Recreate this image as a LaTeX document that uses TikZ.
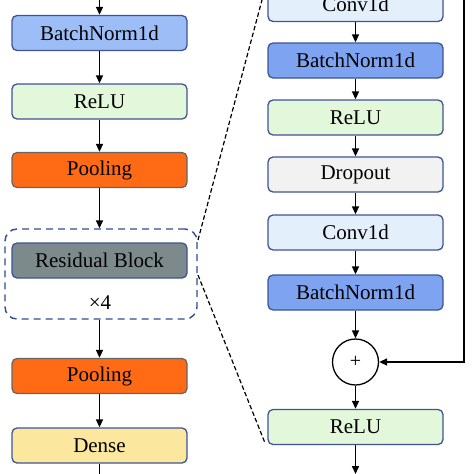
\documentclass[tikz,border=0pt]{standalone}
\usepackage{fontspec}
\setmainfont{Liberation Serif}
\usetikzlibrary{arrows.meta}
\definecolor{bnL}{HTML}{9DBDF7}
\definecolor{bnR}{HTML}{7EA4F1}
\definecolor{reluC}{HTML}{E3F7DA}
\definecolor{poolC}{HTML}{FF6A14}
\definecolor{resC}{HTML}{7D8A8C}
\definecolor{denseC}{HTML}{FCE79E}
\definecolor{convC}{HTML}{E4EFFC}
\definecolor{dropC}{HTML}{F2F2F2}
\definecolor{edgeC}{HTML}{3E5494}
\definecolor{grpC}{HTML}{2F4C90}
\tikzset{
  layer/.style={draw=edgeC, line width=1.3pt, rounded corners=5pt, minimum width=175pt, minimum height=35pt, inner sep=0pt, font=\fontsize{21}{23}\selectfont, text=black},
  arr/.style={line width=1.5pt, -{Triangle[length=8pt,width=7pt]}},
  link/.style={line width=1.2pt, dash pattern=on 4.5pt off 2.5pt},
}
\begin{document}
\begin{tikzpicture}[x=1pt,y=-1pt]
\useasboundingbox (0,0) rectangle (474,474);
% left column
\coordinate (inL) at (99.5,0);
\node[layer, fill=bnL] (bn1) at (99.5,33) {BatchNorm1d};
\node[layer, fill=reluC] (relu1) at (99.5,101.5) {ReLU};
\node[layer, fill=poolC, draw=black!60] (pool1) at (99.5,170) {Pooling};
\node[draw=grpC, line width=1.4pt, dash pattern=on 7pt off 5pt, rounded corners=12pt, minimum width=192pt, minimum height=90pt, inner sep=0pt] (grp) at (101,274) {};
\node[layer, fill=resC] (res) at (99.5,260.5) {Residual Block};
\node[font=\fontsize{21}{23}\selectfont] (times) at (100,303) {×4};
\node[layer, fill=poolC, draw=black!60] (pool2) at (99.5,376) {Pooling};
\node[layer, fill=denseC] (dense) at (99.5,445.5) {Dense};
\coordinate (outL) at (99.5,474);
\draw[arr] (inL) -- (bn1);
\draw[arr] (bn1) -- (relu1);
\draw[arr] (relu1) -- (pool1);
\draw[arr] (pool1) -- (grp.north -| pool1);
\draw[arr] (grp.south -| pool2) -- (pool2);
\draw[arr] (pool2) -- (dense);
\draw[line width=1.5pt] (dense) -- (outL);
% right column
\node[layer, fill=convC] (conv1) at (355.5,4) {Conv1d};
\node[layer, fill=bnR] (bn2) at (355.5,60.5) {BatchNorm1d};
\node[layer, fill=reluC] (relu2) at (355.5,117.5) {ReLU};
\node[layer, fill=dropC] (drop) at (355.5,174.5) {Dropout};
\node[layer, fill=convC] (conv2) at (355.5,232.5) {Conv1d};
\node[layer, fill=bnR] (bn3) at (355.5,292.5) {BatchNorm1d};
\node[circle, draw, line width=1.3pt, minimum size=46pt, inner sep=0pt, font=\fontsize{20}{20}\selectfont] (add) at (355.5,362) {+};
\node[layer, fill=reluC] (relu3) at (355.5,427) {ReLU};
\coordinate (outR) at (355.5,474);
\coordinate (skipTop) at (464,0);
\coordinate (skipCorner) at (464,362);
\draw[arr] (conv1) -- (bn2);
\draw[arr] (bn2) -- (relu2);
\draw[arr] (relu2) -- (drop);
\draw[arr] (drop) -- (conv2);
\draw[arr] (conv2) -- (bn3);
\draw[arr] (bn3) -- (add);
\draw[arr] (add) -- (relu3);
\draw[arr] (relu3) -- (outR);
\draw[arr] (skipTop) -- (skipCorner) -- (add);
% zoom lines
\coordinate (zu1) at (198,240);
\coordinate (zu2) at (262,0);
\coordinate (zl1) at (198,275);
\coordinate (zl2) at (265,443);
\draw[link] (zu1) -- (zu2);
\draw[link] (zl1) -- (zl2);
\end{tikzpicture}
\end{document}
